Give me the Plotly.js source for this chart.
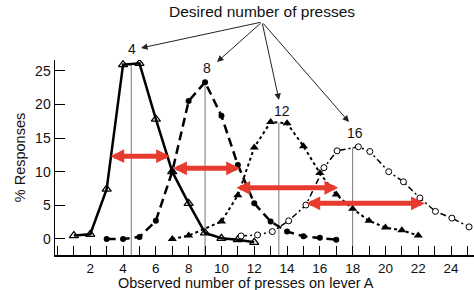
<!DOCTYPE html>
<html>
<head>
<meta charset="utf-8">
<script src="https://cdn.plot.ly/plotly-3.0.1.min.js"></script>
<style>html,body{margin:0;padding:0;background:#fff;}#chart{width:474px;height:290px;}</style>
</head>
<body>
<div id="chart"></div>
<script>
// ---- data ----
const x4  = [1, 2, 3, 4, 5, 6, 7, 8, 9, 10, 11, 12];
const y4  = [0.5, 0.7, 7.4, 25.9, 26.1, 17.8, 10.0, 5.3, 0.9, 0.1, -0.1, -0.5];
const x8  = [3, 4, 5, 6, 7, 8, 9, 10, 11, 12, 13, 14, 15, 16, 17];
const y8  = [0, 0, 0.3, 2.7, 10.0, 20.5, 23.3, 18.3, 11.0, 5.3, 2.6, 1.1, 0.4, 0.2, -0.1];
const x12 = [7, 8, 10, 11, 12, 13, 14, 15, 16, 17, 18, 19, 20, 21, 22];
const y12 = [0, 0.5, 2.6, 6.5, 13.6, 17.4, 17.2, 13.8, 9.8, 6.6, 4.5, 2.7, 1.7, 1.3, 0.5];
const x16 = [11.2, 12.2, 13.1, 14.1, 15.15, 16.25, 17.05, 18.35, 19.05, 20.2, 21.1, 22.1, 23.05, 24.05, 25.1];
const y16 = [0.45, 0.6, 1.1, 2.7, 5.05, 10.6, 13.1, 13.7, 13.0, 10.0, 8.5, 6.1, 4.1, 3.1, 1.8];

const desiredLabels = ['4', '8', '12', '16'];
const medianX   = [4.5, 9, 13.5, 18];
const medianTop = [26.1, 23.3, 17.3, 13.6];

// red double arrows: [left x, right x, y]
const arrowLeft  = [3.14, 6.96, 10.82, 15.09];
const arrowRight = [6.86, 11.13, 17.12, 22.4];
const arrowY     = [12.3, 10.5, 7.6, 5.3];

const yTicks = [0, 5, 10, 15, 20, 25];
const xTicks = [2, 4, 6, 8, 10, 12, 14, 16, 18, 20, 22, 24];

// ---- layout geometry ----
const W = 474, H = 290;
const M = {l: 55, r: 0, t: 60, b: 35};
const XR = [-0.15, 25.4], YR = [-2.38, 26.6];
const pw = W - M.l - M.r, ph = H - M.t - M.b;
const px = p => (p - M.l) / pw;          // pixel x -> paper
const py = p => (H - M.b - p) / ph;      // pixel y -> paper

const FONT = 'Liberation Sans, Arial, sans-serif';
const TXT = '#111';
const RED = '#e63b2e';

const traces = [
  {x: x4, y: y4, mode: 'lines+markers', line: {color: '#000', width: 2.5},
   marker: {symbol: 'triangle-up-open', size: 8, color: '#000', line: {width: 1.3}}},
  {x: x8, y: y8, mode: 'lines+markers', line: {color: '#000', width: 2.5, dash: '9px,5px'},
   marker: {symbol: 'circle', size: 6, color: '#000'}},
  {x: x12, y: y12, mode: 'lines+markers', line: {color: '#000', width: 2, dash: 'dot'},
   marker: {symbol: 'triangle-up', size: 8, color: '#000'}},
  {x: x16, y: y16, mode: 'lines+markers', line: {color: '#000', width: 1.5, dash: '6px,3px,2px,3px'},
   marker: {symbol: 'circle', size: 6, color: '#fff', line: {color: '#000', width: 1}}}
];

const shapes = medianX.map((m, i) => ({
  type: 'line', xref: 'x', yref: 'y', x0: m, x1: m, y0: YR[0], y1: medianTop[i],
  line: {color: '#777', width: 1}, layer: 'below'
}));

const annotations = [];
annotations.push({xref: 'paper', yref: 'paper', x: px(262), y: py(11), text: 'Desired number of presses',
  showarrow: false, xanchor: 'center', yanchor: 'middle', font: {family: FONT, size: 15.5, color: TXT}});
annotations.push({xref: 'paper', yref: 'paper', x: px(246), y: py(283), text: 'Observed number of presses on lever A',
  showarrow: false, xanchor: 'center', yanchor: 'middle', font: {family: FONT, size: 14.5, color: TXT}});
const labelPix = [[132, 49], [207, 68], [282, 111], [355, 133]];
const tipPix   = [[141, 48], [217, 62], [279, 100], [349, 122]];
const origin = [262, 22];
desiredLabels.forEach((t, i) => {
  annotations.push({xref: 'paper', yref: 'paper', x: px(labelPix[i][0]), y: py(labelPix[i][1]), text: t,
    showarrow: false, xanchor: 'center', yanchor: 'middle', font: {family: FONT, size: 14, color: TXT}});
  annotations.push({xref: 'paper', yref: 'paper', x: px(tipPix[i][0]), y: py(tipPix[i][1]), text: '',
    showarrow: true, axref: 'pixel', ayref: 'pixel',
    ax: origin[0] - tipPix[i][0], ay: origin[1] - tipPix[i][1],
    arrowhead: 2, arrowsize: 1.3, arrowwidth: 1, arrowcolor: '#222', standoff: 0, startstandoff: 0});
});
arrowLeft.forEach((l, i) => {
  annotations.push({xref: 'x', yref: 'y', x: arrowRight[i], y: arrowY[i], axref: 'x', ayref: 'y',
    ax: l, ay: arrowY[i], text: '', showarrow: true, arrowside: 'end+start',
    arrowhead: 2, startarrowhead: 2, arrowsize: 0.55, startarrowsize: 0.55,
    arrowwidth: 5, arrowcolor: RED, standoff: 0, startstandoff: 0});
});

const layout = {
  width: W, height: H, margin: M, showlegend: false,
  paper_bgcolor: '#fff', plot_bgcolor: '#fff',
  font: {family: FONT, size: 14, color: TXT},
  xaxis: {range: XR, showgrid: false, zeroline: false, showline: true, linecolor: '#000', linewidth: 1.5,
    tickmode: 'array', tickvals: xTicks, ticks: 'inside', ticklen: 9, tickwidth: 1, tickcolor: '#000',
    minor: {dtick: 1, tick0: 0, ticks: 'inside', ticklen: 9, tickwidth: 1, tickcolor: '#000', showgrid: false},
    tickfont: {size: 13.5, color: TXT}},
  yaxis: {range: YR, showgrid: false, zeroline: false, showline: true, linecolor: '#000', linewidth: 1.5,
    tickmode: 'array', tickvals: yTicks, ticks: 'inside', ticklen: 10, tickwidth: 1, tickcolor: '#000',
    tickfont: {size: 14, color: TXT}, title: {text: '% Responses', font: {size: 14.5, color: TXT}, standoff: 6}},
  shapes: shapes, annotations: annotations
};

Plotly.newPlot('chart', traces, layout, {displayModeBar: false, staticPlot: true});
</script>
</body>
</html>
